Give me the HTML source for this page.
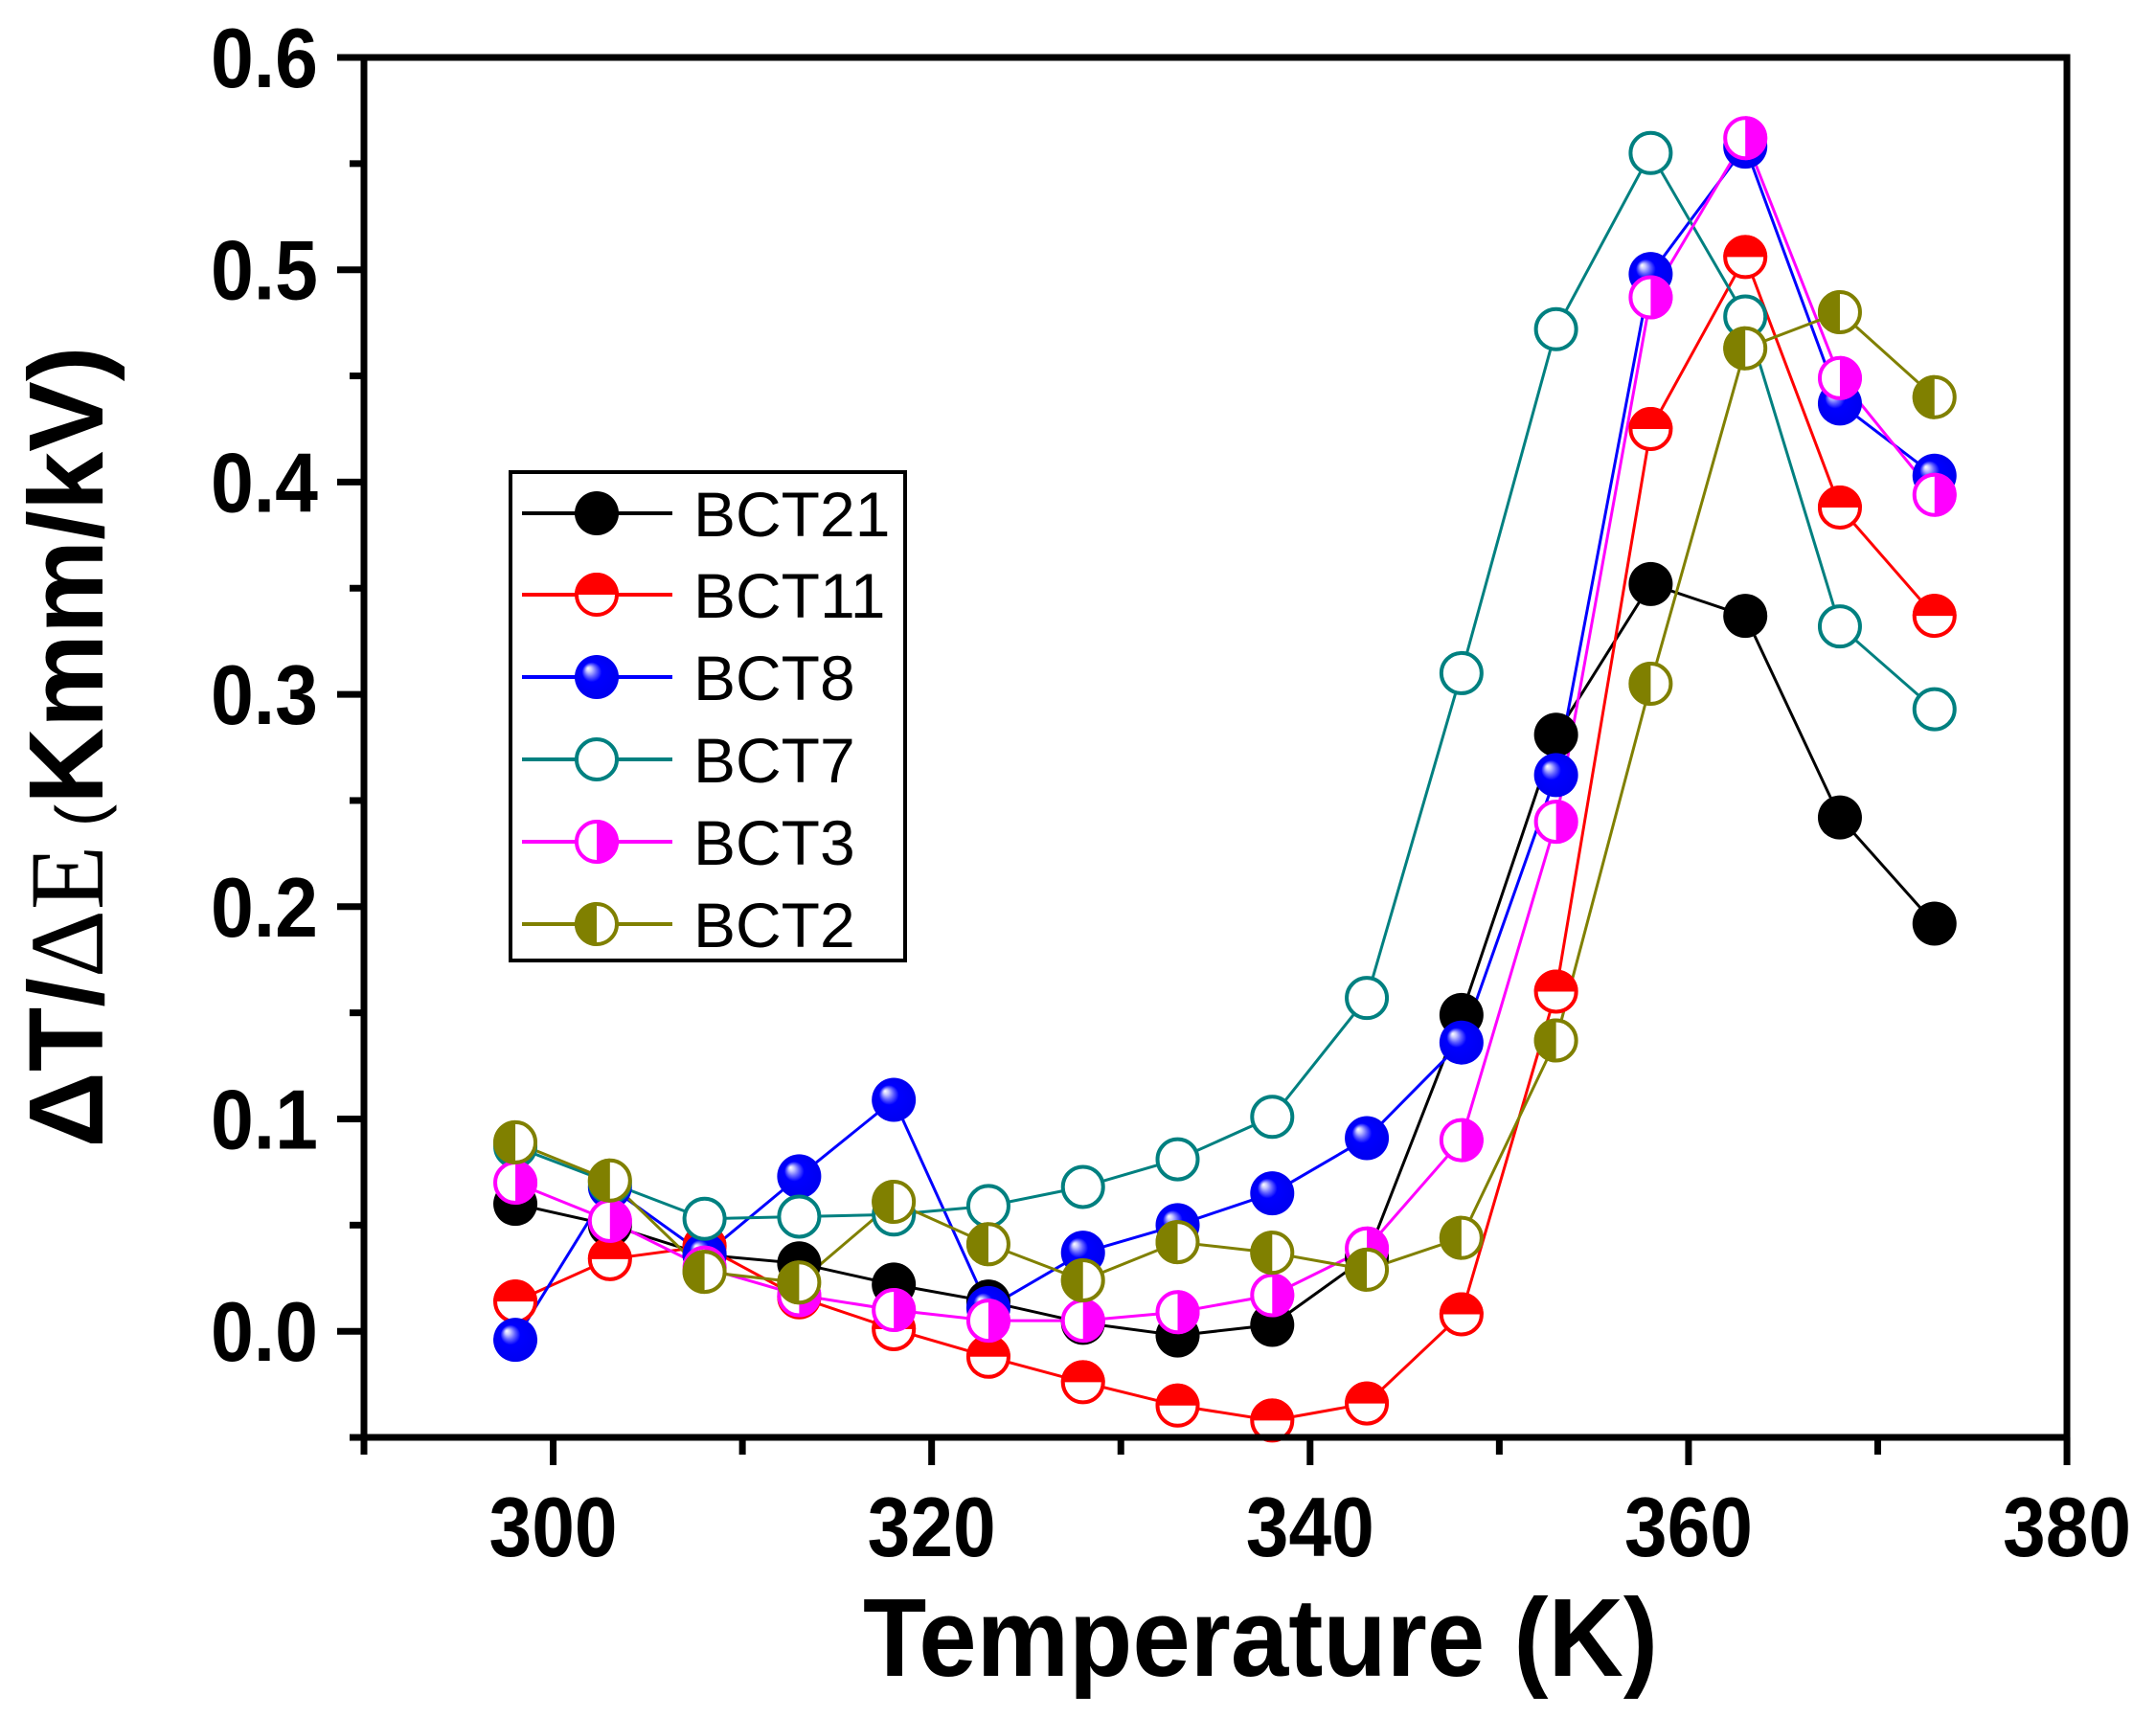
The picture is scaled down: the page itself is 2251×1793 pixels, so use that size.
<!DOCTYPE html>
<html><head><meta charset="utf-8"><style>html,body{margin:0;padding:0;background:#fff}svg{display:block}</style></head>
<body>
<svg id="s" xmlns="http://www.w3.org/2000/svg" width="2251" height="1793" viewBox="0 0 2251 1793">
<defs>
<radialGradient id="bg" cx="0.5" cy="0.5" r="0.5" fx="0.3" fy="0.3">
<stop offset="0" stop-color="#ffffff"/><stop offset="0.12" stop-color="#c8c8ff"/><stop offset="0.28" stop-color="#6060ff"/><stop offset="0.45" stop-color="#0000ff"/><stop offset="1" stop-color="#0000f0"/>
</radialGradient>
</defs>
<g id="plot"></g>
<rect x="380" y="60" width="1778" height="1441" fill="none" stroke="#000" stroke-width="7"/>
<g id="ticks" stroke="#000" stroke-width="7"></g>
<g font-family="Liberation Sans, sans-serif" font-weight="bold" font-size="88" fill="#000" id="labels"></g>
<text x="1316" y="1750" font-family="Liberation Sans, sans-serif" font-weight="bold" font-size="116" text-anchor="middle" textLength="830" lengthAdjust="spacingAndGlyphs">Temperature (K)</text>
<text transform="translate(107,780) rotate(-90)" text-anchor="middle" font-family="Liberation Sans, sans-serif" font-weight="bold" font-size="110" textLength="837" lengthAdjust="spacingAndGlyphs">ΔT/<tspan font-family="Liberation Serif, serif" font-weight="normal">ΔE</tspan><tspan font-size="70" font-weight="normal"> (</tspan>Kmm/kV)</text>
<rect x="533" y="493" width="412" height="510" fill="#fff" stroke="#000" stroke-width="4"/>
<g id="legend" font-family="Liberation Sans, sans-serif" font-size="66" fill="#000"></g>
</svg>
<script>
var NS="http://www.w3.org/2000/svg";
function X(t){return 380+(t-290)*19.756;}
function Y(v){return 60+(0.6-v)*2217;}
function el(p,n,a,txt){var e=document.createElementNS(NS,n);for(var k in a)e.setAttribute(k,a[k]);if(txt!==undefined)e.textContent=txt;p.appendChild(e);return e;}
var T=[];for(var t=298;t<=373;t+=5)T.push(t);
var S=[
{n:"BCT21",c:"#000",m:"full",d:[0.060,0.050,0.036,0.032,0.022,0.014,0.004,-0.002,0.003,0.035,0.149,0.281,0.352,0.337,0.242,0.192]},
{n:"BCT11",c:"#ff0000",m:"top",d:[0.014,0.034,0.040,0.016,0.001,-0.012,-0.024,-0.035,-0.042,-0.034,0.008,0.160,0.425,0.506,0.388,0.337]},
{n:"BCT8",c:"#0000ff",m:"ball",d:[-0.004,0.068,0.036,0.073,0.109,0.011,0.037,0.050,0.065,0.091,0.136,0.262,0.498,0.558,0.437,0.403]},
{n:"BCT7",c:"#008080",m:"open",d:[0.087,0.070,0.053,0.054,0.055,0.059,0.068,0.081,0.101,0.157,0.310,0.472,0.555,0.478,0.332,0.293]},
{n:"BCT3",c:"#ff00ff",m:"right",d:[0.070,0.052,0.030,0.017,0.010,0.005,0.005,0.009,0.017,0.039,0.090,0.240,0.487,0.562,0.449,0.394]},
{n:"BCT2",c:"#808000",m:"left",d:[0.089,0.071,0.028,0.023,0.061,0.041,0.024,0.042,0.037,0.029,0.044,0.137,0.305,0.463,0.480,0.440]}
];
var R=23;
function marker(g,x,y,c,m){
 if(m=="full"){el(g,"circle",{cx:x,cy:y,r:R,fill:c});return;}
 if(m=="ball"){el(g,"circle",{cx:x,cy:y,r:R,fill:"url(#bg)"});return;}
 el(g,"circle",{cx:x,cy:y,r:R-2,fill:"#fff",stroke:c,"stroke-width":4});
 var r=R, p;
 if(m=="top")p="M"+(x-r)+","+y+" A"+r+","+r+" 0 0 1 "+(x+r)+","+y+" Z";
 if(m=="right")p="M"+x+","+(y-r)+" A"+r+","+r+" 0 0 1 "+x+","+(y+r)+" Z";
 if(m=="left")p="M"+x+","+(y-r)+" A"+r+","+r+" 0 0 0 "+x+","+(y+r)+" Z";
 if(p)el(g,"path",{d:p,fill:c});
}
var plot=document.getElementById("plot");
S.forEach(function(s){
 var pts=s.d.map(function(v,i){return X(T[i]).toFixed(1)+","+Y(v).toFixed(1);}).join(" ");
 el(plot,"polyline",{points:pts,fill:"none",stroke:s.c,"stroke-width":3});
});
S.forEach(function(s){s.d.forEach(function(v,i){marker(plot,X(T[i]),Y(v),s.c,s.m);});});
var tk=document.getElementById("ticks"),lb=document.getElementById("labels");
for(var t=290;t<=380;t+=10){var maj=(t%20==0);var x=X(t);
 el(tk,"line",{x1:x,y1:1501,x2:x,y2:1501+(maj?29:18)});
 if(maj&&t>290)el(lb,"text",{x:x,y:1625,"text-anchor":"middle",textLength:134,lengthAdjust:"spacingAndGlyphs"},""+t);
}
for(var k=-1;k<=12;k++){var v=k*0.05;var y=Y(v);var maj=(k%2==0);
 el(tk,"line",{x1:380,y1:y,x2:380-(maj?28:15),y2:y});
 if(maj)el(lb,"text",{x:332,y:y+31,"text-anchor":"end",textLength:112,lengthAdjust:"spacingAndGlyphs"},v.toFixed(1));
}
var lg=document.getElementById("legend");
var ly=[536,621,707,793,879,965];
S.forEach(function(s,i){
 el(lg,"line",{x1:545,y1:ly[i],x2:702,y2:ly[i],stroke:s.c,"stroke-width":4});
 marker(lg,623,ly[i],s.c,s.m);
 el(lg,"text",{x:724,y:ly[i]+24},s.n);
});
</script>
</body></html>
